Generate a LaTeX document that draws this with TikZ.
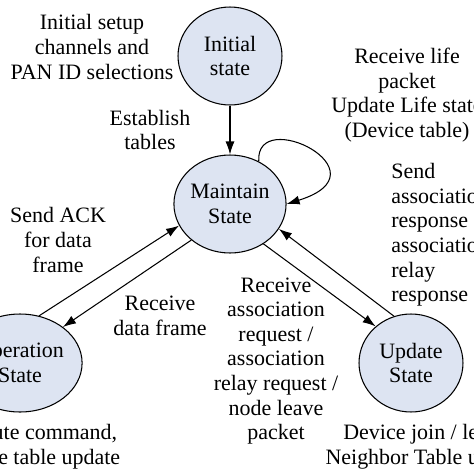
\documentclass[tikz,border=0pt]{standalone}
\usepackage{fontspec}
\setmainfont{Liberation Serif}
\usepackage{xcolor}
\usepackage{tikz}
\usetikzlibrary{arrows.meta, shapes.geometric}
\definecolor{stateblue}{RGB}{221,228,242}

\begin{document}
\begin{tikzpicture}[x=0.02cm, y=-0.02cm,
    font=\fontsize{12.5}{14}\selectfont,
    state/.style={draw, ellipse, fill=stateblue, line width=0.6pt, minimum width=2.08cm, minimum height=1.96cm, inner sep=0pt, align=center},
    note/.style={align=center, inner sep=0pt},
    arrow/.style={-{Latex[length=2.6mm, width=1.8mm]}, line width=0.6pt}
  ]
    \useasboundingbox (0,0) rectangle (474,474);
    \clip (0,0) rectangle (474,474);

    % States
    \node[state] (initial) at (230, 56) {Initial\\state};
    \node[state] (maintain) at (230, 204) {Maintain\\State};
    \node[state] (operation) at (20, 363) {Operation\\State};
    \node[state] (update) at (411, 363) {Update\\State};

    % Arrows
    \draw[arrow] (initial) -- (maintain);
    \draw[arrow] (maintain.56) .. controls (255,105) and (390,172) .. (maintain.east);
    \draw[arrow] (operation.68) -- (maintain.203);
    \draw[arrow] (maintain.223) -- (operation.40);
    \draw[arrow] (maintain.310) -- (update.134);
    \draw[arrow] (update.110) -- (maintain.333);

    % Transition labels
    \node[note] (setup) at (92, 47) {Initial setup\\channels and\\PAN ID selections};
    \node[note] (establish) at (150, 130) {Establish\\tables};
    \node[note] (life) at (407, 95) {Receive life\\packet\\Update Life state\\(Device table)};
    \node[note] (ack) at (58, 240) {Send ACK\\for data\\frame};
    \node[note] (recvdata) at (160, 316) {Receive\\data frame};
    \node[note, align=left, anchor=west] (sendassoc) at (391, 235) {Send\\association\\response\\association\\relay\\response};
    \node[note] (recvassoc) at (276, 361) {Receive\\association\\request /\\association\\relay request /\\node leave\\packet};
    \node[note] (execute) at (33, 447) {Execute command,\\Device table update};
    \node[note] (join) at (426, 447) {Device join / leave\\Neighbor Table update};

  \end{tikzpicture}
\end{document}
